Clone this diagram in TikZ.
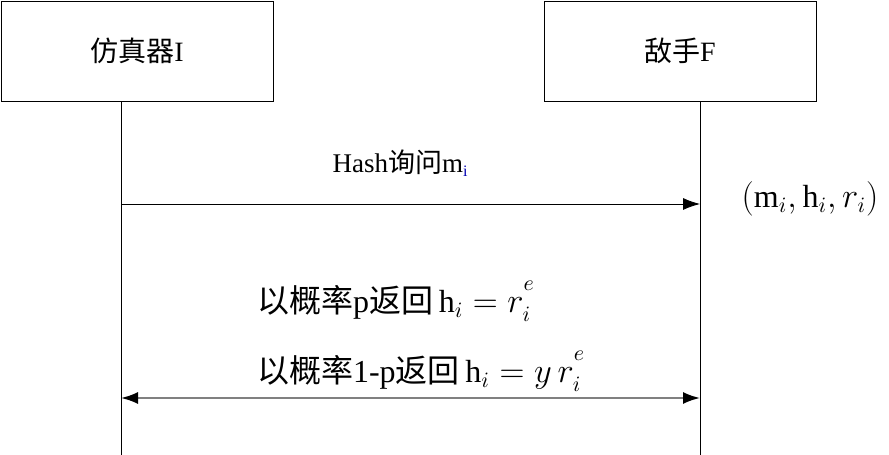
\documentclass[tikz,border=0pt]{standalone}
\usepackage{fontspec}
\setmainfont{Liberation Serif}
\newfontfamily\cjk{Noto Sans CJK SC}
\usetikzlibrary{arrows.meta}
\tikzset{
  party/.style={draw, minimum width=136pt, minimum height=50pt, font=\fontsize{14}{16}\selectfont},
  msg/.style={draw, -{Latex[length=8.5pt,width=6pt]}},
  reply/.style={draw=gray, line width=1pt, {Latex[length=8.5pt,width=6pt,black]}-{Latex[length=8.5pt,width=6pt,black]}},
  lbl/.style={font=\fontsize{16}{18}\selectfont}
}
\newcommand{\rexp}{r_i^{\raisebox{5pt}{$\scriptstyle e$}}}
\begin{document}
\begin{tikzpicture}[x=0.5pt,y=0.5pt]
\useasboundingbox (0,0) rectangle (889,455);

\node[party] (sim) at (137,404) {{\cjk 仿真器}I};
\node[party] (adv) at (680,404) {{\cjk 敌手}F};

\coordinate (simend) at (121,0);
\coordinate (advend) at (700,0);
\path[draw] (sim.south -| simend) -- (simend);
\path[draw] (adv.south -| advend) -- (advend);

% query
\coordinate (q1) at (121,251);
\coordinate (q2) at (700,251);
\path[msg] (q1) -- (q2);
\node[font=\fontsize{13.5}{15}\selectfont] (qtext) at (400,292) {Hash{\cjk 询问}m\raisebox{-2pt}{\fontsize{8}{9}\selectfont\color{blue!70!black}i}};
\node[lbl] (tuple) at (810,256) {$(\mathrm{m}_i,\mathrm{h}_i,r_i)$};

% answer
\node[lbl, anchor=west] (ans1) at (250,154) {{\cjk 以概率}p{\cjk 返回}$\,\mathrm{h}_i = \rexp$};
\node[lbl, anchor=west] (ans2) at (250,84) {{\cjk 以概率}1-p{\cjk 返回}$\,\mathrm{h}_i = y\,\rexp$};
\coordinate (a1) at (121,57);
\coordinate (a2) at (700,57);
\path[reply] (a1) -- (a2);
\end{tikzpicture}
\end{document}
